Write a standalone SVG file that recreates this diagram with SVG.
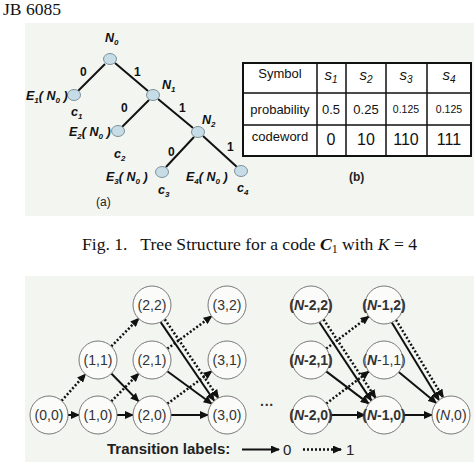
<svg xmlns="http://www.w3.org/2000/svg" width="474" height="462" viewBox="0 0 474 462">
<style>
.bg{fill:#f3f5f1}
.tn{fill:#c6dce6;stroke:#7f939c;stroke-width:1}
.te{stroke:#111;stroke-width:2;fill:none}
.tl{font-family:"Liberation Sans",Arial,sans-serif;font-weight:bold;font-style:italic;font-size:12.5px;fill:#111}
.tb{font-family:"Liberation Sans",Arial,sans-serif;font-weight:bold;font-size:12px;fill:#111}
.sm{font-family:"Liberation Sans",Arial,sans-serif;font-size:12px;fill:#222}
.tab{font-family:"Liberation Sans",Arial,sans-serif;fill:#111;text-anchor:middle}
.cap{font-family:"Liberation Serif","Times New Roman",serif;font-size:17.6px;fill:#111}
.st{fill:#fbfcfa;stroke:#777;stroke-width:1}
.sl{font-family:"Liberation Sans",Arial,sans-serif;font-size:14px;fill:#333;text-anchor:middle}
.s{stroke:#111;stroke-width:2;fill:none;marker-end:url(#ah)}
.d{stroke:#111;stroke-width:2.5;stroke-dasharray:2 2;fill:none;marker-end:url(#ah)}
</style>
<defs>
<marker id="ah" markerUnits="userSpaceOnUse" markerWidth="9" markerHeight="8" refX="8" refY="4" orient="auto">
<path d="M0,0 L9,4 L0,8 z" fill="#111"/>
</marker>
</defs>
<text x="3" y="15" class="cap" font-size="14">JB 6085</text>
<rect class="bg" x="25" y="23" width="449" height="193"/>
<rect class="bg" x="25" y="276" width="449" height="186"/>

<g id="tree-edges">
<line class="te" x1="105" y1="64" x2="78" y2="91"/>
<line class="te" x1="115" y1="63" x2="148" y2="91"/>
<line class="te" x1="149" y1="100" x2="122" y2="127"/>
<line class="te" x1="158" y1="99" x2="193" y2="128"/>
<line class="te" x1="194" y1="137" x2="166" y2="167"/>
<line class="te" x1="203" y1="136" x2="237" y2="167"/>
</g>
<g id="N0"><ellipse class="tn" cx="110" cy="59" rx="6.5" ry="5.5"/><text class="tl" x="105" y="42">N<tspan font-size="8" dy="3">0</tspan></text></g>
<g id="N1"><ellipse class="tn" cx="153" cy="95" rx="6.5" ry="5.5"/><text class="tl" x="162" y="89">N<tspan font-size="8" dy="3">1</tspan></text></g>
<g id="N2"><ellipse class="tn" cx="198" cy="132" rx="6.5" ry="5.5"/><text class="tl" x="202" y="124">N<tspan font-size="8" dy="3">2</tspan></text></g>
<g id="E1"><ellipse class="tn" cx="74" cy="95" rx="6.5" ry="5.5"/><text class="tl" x="26" y="100" xml:space="preserve">E<tspan font-size="8" dy="3">1</tspan><tspan dy="-3">( N</tspan><tspan font-size="8" dy="3">0</tspan><tspan dy="-3"> )</tspan></text><text class="tl" x="71" y="116">c<tspan font-size="8" dy="3">1</tspan></text></g>
<g id="E2"><ellipse class="tn" cx="118" cy="131" rx="6.5" ry="5.5"/><text class="tl" x="69" y="136" xml:space="preserve">E<tspan font-size="8" dy="3">2</tspan><tspan dy="-3">( N</tspan><tspan font-size="8" dy="3">0</tspan><tspan dy="-3"> )</tspan></text><text class="tl" x="114" y="158">c<tspan font-size="8" dy="3">2</tspan></text></g>
<g id="E3"><ellipse class="tn" cx="162" cy="172" rx="6.5" ry="5.5"/><text class="tl" x="106" y="181" xml:space="preserve">E<tspan font-size="8" dy="3">3</tspan><tspan dy="-3">( N</tspan><tspan font-size="8" dy="3">0</tspan><tspan dy="-3"> )</tspan></text><text class="tl" x="158" y="194">c<tspan font-size="8" dy="3">3</tspan></text></g>
<g id="E4"><ellipse class="tn" cx="241" cy="171" rx="6.5" ry="5.5"/><text class="tl" x="186" y="181" xml:space="preserve">E<tspan font-size="8" dy="3">4</tspan><tspan dy="-3">( N</tspan><tspan font-size="8" dy="3">0</tspan><tspan dy="-3"> )</tspan></text><text class="tl" x="237" y="192">c<tspan font-size="8" dy="3">4</tspan></text></g>
<g id="tree-bit-labels">
<text class="tb" x="80" y="76">0</text><text class="tb" x="134" y="76">1</text>
<text class="tb" x="121" y="112">0</text><text class="tb" x="179" y="112">1</text>
<text class="tb" x="168" y="156">0</text><text class="tb" x="227" y="151">1</text>
</g>
<text class="sm" x="96" y="206">(a)</text>

<g id="table">
<rect x="243" y="63" width="228" height="93" fill="#fff" stroke="#111" stroke-width="2"/>
<path d="M317,63V156M346,63V156M386,63V156M427,63V156M243,93H471M243,125H471" stroke="#111" stroke-width="1.5" fill="none"/>
<text class="tab" x="280" y="78" font-size="13">Symbol</text>
<text class="tab" x="331" y="80" font-size="15" font-style="italic">s<tspan font-size="10" dy="3">1</tspan></text>
<text class="tab" x="366" y="80" font-size="15" font-style="italic">s<tspan font-size="10" dy="3">2</tspan></text>
<text class="tab" x="406" y="80" font-size="15" font-style="italic">s<tspan font-size="10" dy="3">3</tspan></text>
<text class="tab" x="449" y="80" font-size="15" font-style="italic">s<tspan font-size="10" dy="3">4</tspan></text>
<text class="tab" x="280" y="114" font-size="13">probability</text>
<text class="tab" x="331" y="114" font-size="13">0.5</text>
<text class="tab" x="366" y="114" font-size="13">0.25</text>
<text class="tab" x="406" y="113" font-size="10.5">0.125</text>
<text class="tab" x="449" y="113" font-size="10.5">0.125</text>
<text class="tab" x="280" y="141" font-size="13">codeword</text>
<text class="tab" x="331" y="145" font-size="16">0</text>
<text class="tab" x="366" y="145" font-size="16">10</text>
<text class="tab" x="406" y="145" font-size="16">110</text>
<text class="tab" x="449" y="145" font-size="16">111</text>
</g>
<text class="sm" x="349" y="181" font-weight="bold" font-size="11">(b)</text>

<text class="cap" x="82" y="250" xml:space="preserve">Fig. 1.   Tree Structure for a code <tspan font-weight="bold" font-style="italic">C</tspan><tspan font-size="12" dy="3">1</tspan><tspan dy="-3"> with </tspan><tspan font-style="italic">K</tspan> = 4</text>

<g id="connectors">
<line class="s" x1="68" y1="415" x2="79" y2="415"/>
<line class="s" x1="117" y1="415" x2="133" y2="415"/>
<line class="s" x1="171" y1="415" x2="208" y2="415"/>
<line class="d" x1="61.6" y1="400.8" x2="85.4" y2="374.2"/>
<line class="d" x1="111.3" y1="401.4" x2="138.7" y2="373.5"/>
<line class="d" x1="111.3" y1="346.4" x2="138.7" y2="318.5"/>
<line class="s" x1="111.3" y1="373.5" x2="138.7" y2="401.4"/>
<line class="d" x1="167.3" y1="403.8" x2="211.7" y2="371.2"/>
<line class="d" x1="167.3" y1="348.8" x2="211.7" y2="316.2"/>
<line class="s" x1="167.3" y1="371.2" x2="211.7" y2="403.8"/>
<line class="s" x1="160.6" y1="322.1" x2="214.2" y2="400.7"/>
<line class="d" x1="164.8" y1="319.3" x2="218.4" y2="397.9"/>
<line class="s" x1="330" y1="415" x2="365" y2="415"/>
<line class="s" x1="403" y1="415" x2="432" y2="415"/>
<line class="d" x1="326.2" y1="403.6" x2="368.8" y2="371.4"/>
<line class="d" x1="326.2" y1="348.6" x2="368.8" y2="316.4"/>
<line class="s" x1="326.2" y1="371.4" x2="368.8" y2="403.6"/>
<line class="s" x1="319.4" y1="322.2" x2="371.4" y2="400.6"/>
<line class="d" x1="323.6" y1="319.4" x2="375.6" y2="397.8"/>
<line class="s" x1="398.7" y1="372" x2="436.3" y2="403"/>
<line class="s" x1="391.8" y1="322.5" x2="439" y2="400.1"/>
<line class="d" x1="396" y1="319.9" x2="443.2" y2="397.5"/>
</g>

<g id="s00"><circle class="st" cx="49" cy="415" r="19"/><text class="sl" x="49" y="420">(0,0)</text></g>
<g id="s10"><circle class="st" cx="98" cy="415" r="19"/><text class="sl" x="98" y="420">(1,0)</text></g>
<g id="s20"><circle class="st" cx="152" cy="415" r="19"/><text class="sl" x="152" y="420">(2,0)</text></g>
<g id="s30"><circle class="st" cx="227" cy="415" r="19"/><text class="sl" x="227" y="420">(3,0)</text></g>
<g id="s11"><circle class="st" cx="98" cy="360" r="19"/><text class="sl" x="98" y="365">(1,1)</text></g>
<g id="s21"><circle class="st" cx="152" cy="360" r="19"/><text class="sl" x="152" y="365">(2,1)</text></g>
<g id="s31"><circle class="st" cx="227" cy="360" r="19"/><text class="sl" x="227" y="365">(3,1)</text></g>
<g id="s22"><circle class="st" cx="152" cy="305" r="19"/><text class="sl" x="152" y="310">(2,2)</text></g>
<g id="s32"><circle class="st" cx="227" cy="305" r="19"/><text class="sl" x="227" y="310">(3,2)</text></g>
<g id="sN20"><circle class="st" cx="311" cy="415" r="19"/><text class="sl" x="311" y="420" font-size="13" font-weight="bold">(<tspan font-style="italic">N</tspan>-2,0)</text></g>
<g id="sN21"><circle class="st" cx="311" cy="360" r="19"/><text class="sl" x="311" y="365" font-size="13" font-weight="bold">(<tspan font-style="italic">N</tspan>-2,1)</text></g>
<g id="sN22"><circle class="st" cx="311" cy="305" r="19"/><text class="sl" x="311" y="310" font-size="13" font-weight="bold">(<tspan font-style="italic">N</tspan>-2,2)</text></g>
<g id="sN10"><circle class="st" cx="384" cy="415" r="19"/><text class="sl" x="384" y="420" font-size="13" font-weight="bold">(<tspan font-style="italic">N</tspan>-1,0)</text></g>
<g id="sN11"><circle class="st" cx="384" cy="360" r="19"/><text class="sl" x="384" y="365" font-size="13">(<tspan font-style="italic" font-weight="bold">N</tspan>-1,1)</text></g>
<g id="sN12"><circle class="st" cx="384" cy="305" r="19"/><text class="sl" x="384" y="310" font-size="13" font-weight="bold">(<tspan font-style="italic">N</tspan>-1,2)</text></g>
<g id="sN0"><circle class="st" cx="451" cy="415" r="19"/><text class="sl" x="451" y="420">(<tspan font-style="italic">N</tspan>,0)</text></g>
<text class="sl" x="267" y="410" font-size="20" font-weight="bold">···</text>

<g id="legend">
<text x="107" y="454" font-family="'Liberation Sans',Arial,sans-serif" font-weight="bold" font-size="15" fill="#222">Transition labels:</text>
<line class="s" x1="242" y1="449.5" x2="279" y2="449.5"/>
<text x="283" y="455" font-family="'Liberation Sans',Arial,sans-serif" font-size="15" fill="#222">0</text>
<line class="d" x1="303" y1="449.5" x2="341" y2="449.5"/>
<text x="346" y="455" font-family="'Liberation Sans',Arial,sans-serif" font-size="15" fill="#222">1</text>
</g>
</svg>
